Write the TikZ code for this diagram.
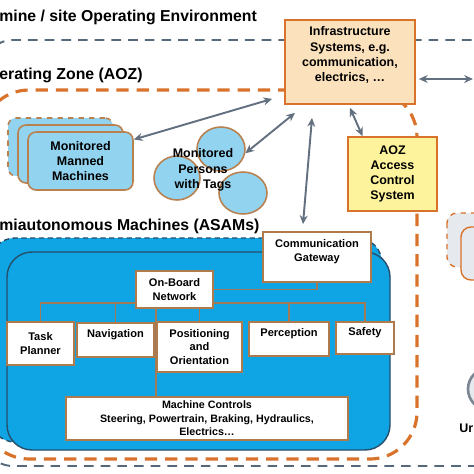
\documentclass[tikz,border=0pt]{standalone}
\usepackage{fontspec}
\setmainfont{Liberation Sans}
\usepackage{xcolor}
\definecolor{envGrey}{HTML}{55697A}
\definecolor{aozOrange}{HTML}{D9722B}
\definecolor{infraFill}{HTML}{FCE2BC}
\definecolor{acsFill}{HTML}{FDF39C}
\definecolor{monFill}{HTML}{92D3F0}
\definecolor{monEdge}{HTML}{B9814F}
\definecolor{asamBlue}{HTML}{0FA4E4}
\definecolor{asamEdge}{HTML}{264F6C}
\definecolor{boxEdge}{HTML}{B07B4C}
\definecolor{busBrown}{HTML}{A27A56}
\definecolor{arrowGrey}{HTML}{637080}
\definecolor{sideFill}{HTML}{E6E9EE}
\definecolor{sideEdge}{HTML}{7B8692}
\usetikzlibrary{arrows.meta,shapes.geometric,backgrounds}

\tikzset{
  heading/.style={anchor=west, inner sep=0pt, font=\bfseries\fontsize{9}{11}\selectfont},
  bigbox/.style={draw=aozOrange, line width=1pt, align=center, inner sep=1pt, font=\bfseries\fontsize{7.1}{8.7}\selectfont},
  subbox/.style={draw=boxEdge, line width=1pt, fill=white, align=center, inner sep=1pt, font=\bfseries\fontsize{6.3}{7.7}\selectfont},
  machine/.style={draw=monEdge, line width=0.9pt, fill=monFill, rounded corners=1.6mm, minimum width=2.1cm, minimum height=1.16cm, align=center, font=\bfseries\fontsize{7.1}{8.7}\selectfont},
  person/.style={ellipse, draw=monEdge, line width=0.9pt, fill=monFill, inner sep=0pt},
  link/.style={draw=arrowGrey, line width=1.1pt, {Stealth[length=5pt,width=4.5pt]}-{Stealth[length=5pt,width=4.5pt]}},
  bus/.style={draw=busBrown, line width=1.1pt},
}

\begin{document}
\begin{tikzpicture}[x=0.02cm, y=-0.02cm]
  \useasboundingbox (0,0) rectangle (474,474);
  \clip (0,0) rectangle (474,474);
  % zones
  \draw[envGrey, line width=1.1pt, dash pattern=on 5.5pt off 4pt, rounded corners=0.6cm] (-17,40) rectangle (520,466);
  \draw[aozOrange, line width=1.8pt, dash pattern=on 7pt off 4.5pt, rounded corners=0.94cm] (-18,90) rectangle (417,459);
  \node[heading] (envTitle) at (-1,17) {mine / site Operating Environment};
  \node[heading] (aozTitle) at (-1,75) {erating Zone (AOZ)};
  \node[heading] (asamTitle) at (-1,226) {miautonomous Machines (ASAMs)};

  % monitored machines and persons
  \node[machine, dashed] (mmm3) at (60.5,147) {};
  \node[machine] (mmm2) at (70.5,154) {};
  \node[machine] (mmm) at (80.5,161) {Monitored\\Manned\\Machines};
  \node[person, minimum width=0.96cm, minimum height=0.88cm] (p1) at (221,149) {};
  \node[person, minimum width=0.92cm, minimum height=0.88cm] (p2) at (177,178) {};
  \node[person, minimum width=0.96cm, minimum height=0.84cm] (p3) at (243,193) {};
  \node[align=center, font=\bfseries\fontsize{7.1}{8.7}\selectfont] (persons) at (203,170) {Monitored\\Persons\\with Tags};

  % ASAM boxes
  \coordinate (busline) at (0,303);
  \node[subbox, minimum width=2.16cm, minimum height=1.0cm] (gw) at (317,257) {Communication\\Gateway\\};
  \node[subbox, minimum width=1.54cm, minimum height=0.74cm] (obn) at (174.5,289.5) {On-Board\\Network};
  \node[subbox, minimum width=1.34cm, minimum height=0.86cm] (tp) at (40.5,343.5) {Task\\Planner};
  \node[subbox, minimum width=1.54cm, minimum height=0.68cm] (nav) at (115.5,340) {Navigation\\};
  \node[subbox, minimum width=1.7cm, minimum height=1.0cm] (pos) at (199.5,347) {Positioning\\and\\Orientation};
  \node[subbox, minimum width=1.6cm, minimum height=0.68cm] (perc) at (289,339) {Perception\\};
  \node[subbox, minimum width=1.16cm, minimum height=0.64cm] (safe) at (365,338) {Safety\\};
  \node[subbox, minimum width=5.64cm, minimum height=0.86cm, font=\bfseries\fontsize{6.1}{7.6}\selectfont] (mc) at (207,418.5) {Machine Controls\\Steering, Powertrain, Braking, Hydraulics,\\Electrics…};
  \begin{scope}[on background layer]
    \draw[asamEdge, fill=asamBlue, line width=0.8pt, dash pattern=on 3pt off 2pt, rounded corners=0.5cm] (-10,238) rectangle (382,442);
    \draw[asamEdge, fill=asamBlue, line width=0.8pt, rounded corners=0.5cm] (7,252) rectangle (390,450);
    \draw[bus] (gw.south) |- (obn.east);
    \draw[bus] (tp.north) |- (busline -| safe.north) -- (safe.north);
    \draw[bus] (busline -| nav.north) -- (nav.north);
    \draw[bus] (busline -| pos.north) -- (pos.north);
    \draw[bus] (busline -| perc.north) -- (perc.north);
    \draw[bus] (busline -| pos.west) -- (mc.north -| pos.west);
  \end{scope}

  % infrastructure and access control
  \node[bigbox, fill=infraFill, minimum width=2.6cm, minimum height=1.68cm] (infra) at (350,62) {Infrastructure\\Systems, e.g.\\communication,\\electrics, …\\};
  \node[bigbox, fill=acsFill, minimum width=1.78cm, minimum height=1.48cm] (acs) at (392.5,174) {AOZ\\Access\\Control\\System};
  \coordinate (envR) at (473,79);

  \draw[link] (mmm.22) -- ([shift={(-12,-6)}]infra.south west);
  \draw[link] (p1.-10) -- ([shift={(-55,8)}]infra.south);
  \draw[link] ([shift={(-14,-7)}]gw.north) -- ([shift={(-38,13)}]infra.south);
  \draw[link] ([shift={(0,3)}]infra.south) -- ([shift={(-30,0)}]acs.north);
  \draw[link] ([shift={(3,17)}]infra.east) -- (envR);

  % right side, cut off
  \draw[aozOrange, fill=sideFill, line width=0.8pt, dashed, rounded corners=2mm] (447,213) rectangle (530,267);
  \draw[aozOrange, fill=sideFill, line width=0.8pt, rounded corners=2mm] (461,227) rectangle (540,280);
  \draw[sideEdge, fill=sideFill, line width=1.5pt] (489,389) circle[radius=0.42cm];
  \node[heading, font=\bfseries\fontsize{7.1}{8.7}\selectfont] (urText) at (459,428) {Ur};
\end{tikzpicture}
\end{document}
